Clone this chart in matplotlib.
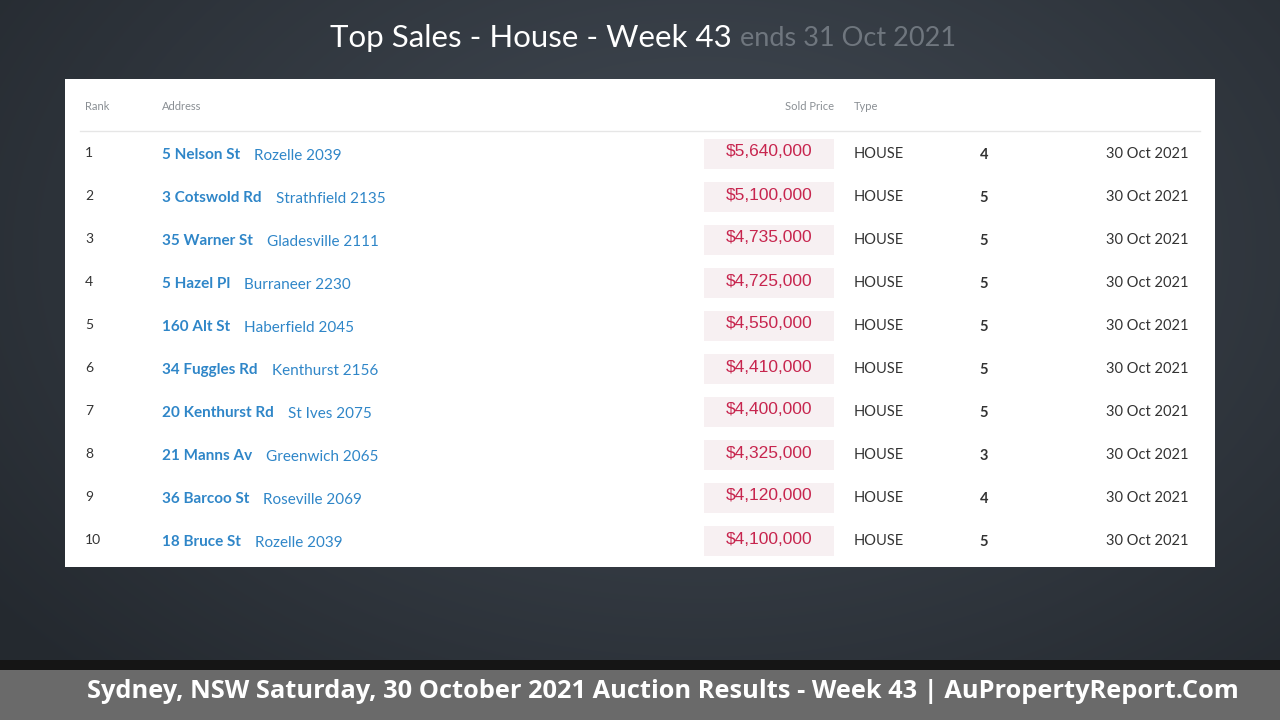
import numpy as np
import matplotlib
matplotlib.use("Agg")
import matplotlib.pyplot as plt
from matplotlib.patches import Rectangle

ranks = [1, 2, 3, 4, 5, 6, 7, 8, 9, 10]
streets = ["5 Nelson St", "3 Cotswold Rd", "35 Warner St", "5 Hazel Pl", "160 Alt St",
           "34 Fuggles Rd", "20 Kenthurst Rd", "21 Manns Av", "36 Barcoo St", "18 Bruce St"]
suburbs = ["Rozelle 2039", "Strathfield 2135", "Gladesville 2111", "Burraneer 2230",
           "Haberfield 2045", "Kenthurst 2156", "St Ives 2075", "Greenwich 2065",
           "Roseville 2069", "Rozelle 2039"]
prices = [5640000, 5100000, 4735000, 4725000, 4550000, 4410000, 4400000, 4325000, 4120000, 4100000]
types = ["HOUSE"] * 10
beds = [4, 5, 5, 5, 5, 5, 5, 3, 4, 5]
dates = ["30 Oct 2021"] * 10
headers = ["Rank", "Address", "Sold Price", "Type"]

plt.rcParams['font.family'] = ['Lato', 'DejaVu Sans']
fig = plt.figure(figsize=(12.8, 7.2), dpi=100)
ax = fig.add_axes([0, 0, 1, 1])
ax.set_xlim(0, 1280); ax.set_ylim(720, 0); ax.axis('off')

yy, xx = np.mgrid[0:720, 0:1280]
r = np.sqrt(((xx - 700) / 900) ** 2 + ((yy - 250) / 600) ** 2)
r = np.clip(r, 0, 1)
c0 = np.array([0x43, 0x4b, 0x55]) / 255; c1 = np.array([0x24, 0x29, 0x2f]) / 255
img = c0[None, None, :] * (1 - r[..., None]) + c1[None, None, :] * r[..., None]
ax.imshow(img, extent=[0, 1280, 720, 0], aspect='auto', zorder=0)

t = ax.text(330, 38, "Top Sales - House - Week 43 ", ha='left', va='center', fontsize=22.5, color='white')
fig.canvas.draw()
x_end = ax.transData.inverted().transform((t.get_window_extent().x1, 0))[0]
ax.text(x_end, 39, "ends 31 Oct 2021", ha='left', va='center', fontsize=19.5, color='#6f767e')

ax.add_patch(Rectangle((65, 79), 1150, 488, facecolor='white', edgecolor='none', zorder=2))
hc = '#8a8f94'
ax.text(85, 107, headers[0], fontsize=8, color=hc, va='center', zorder=3)
ax.text(162, 107, headers[1], fontsize=8, color=hc, va='center', zorder=3)
ax.text(834, 107, headers[2], fontsize=8, color=hc, va='center', ha='right', zorder=3)
ax.text(854, 107, headers[3], fontsize=8, color=hc, va='center', zorder=3)
ax.plot([80, 1200], [131, 131], color='#e6e6e6', lw=1, zorder=3)

blue = '#2f86c8'
for i in range(10):
    y = 154 + 43 * i
    ax.text(85, y - 1, str(ranks[i]), fontsize=10, color='#333333', va='center', zorder=3)
    s = ax.text(162, y + 1, streets[i], fontsize=11, color=blue, fontweight='bold', va='center', zorder=3)
    fig.canvas.draw()
    sx = ax.transData.inverted().transform((s.get_window_extent().x1, 0))[0]
    ax.text(sx + 14, y + 2, suburbs[i], fontsize=11, color=blue, va='center', zorder=3)
    ax.add_patch(Rectangle((704, y - 15), 130, 30, facecolor='#f7f0f2', edgecolor='none', zorder=3))
    ax.text(769, y - 2, "${:,}".format(prices[i]), fontsize=12.5, color='#c7254e', ha='center', va='center',
            family=['Liberation Sans', 'DejaVu Sans'], zorder=4)
    ax.text(854, y, types[i], fontsize=10.5, color='#333333', va='center', zorder=3)
    ax.text(984, y + 1, str(beds[i]), fontsize=10.5, color='#333333', fontweight='bold', ha='center', va='center', zorder=3)
    ax.text(1189, y, dates[i], fontsize=10.5, color='#333333', ha='right', va='center', zorder=3)

ax.add_patch(Rectangle((0, 660), 1280, 10, facecolor='#151515', edgecolor='none', zorder=2))
ax.add_patch(Rectangle((0, 670), 1280, 50, facecolor='#6a6a6a', edgecolor='none', zorder=2))
ax.text(663, 692, "Sydney, NSW Saturday, 30 October 2021 Auction Results - Week 43 | AuPropertyReport.Com",
        fontsize=18.3, color='white', fontweight='bold', ha='center', va='center',
        family=['Open Sans', 'DejaVu Sans'], zorder=3)

fig.savefig("out.png", dpi=100)
